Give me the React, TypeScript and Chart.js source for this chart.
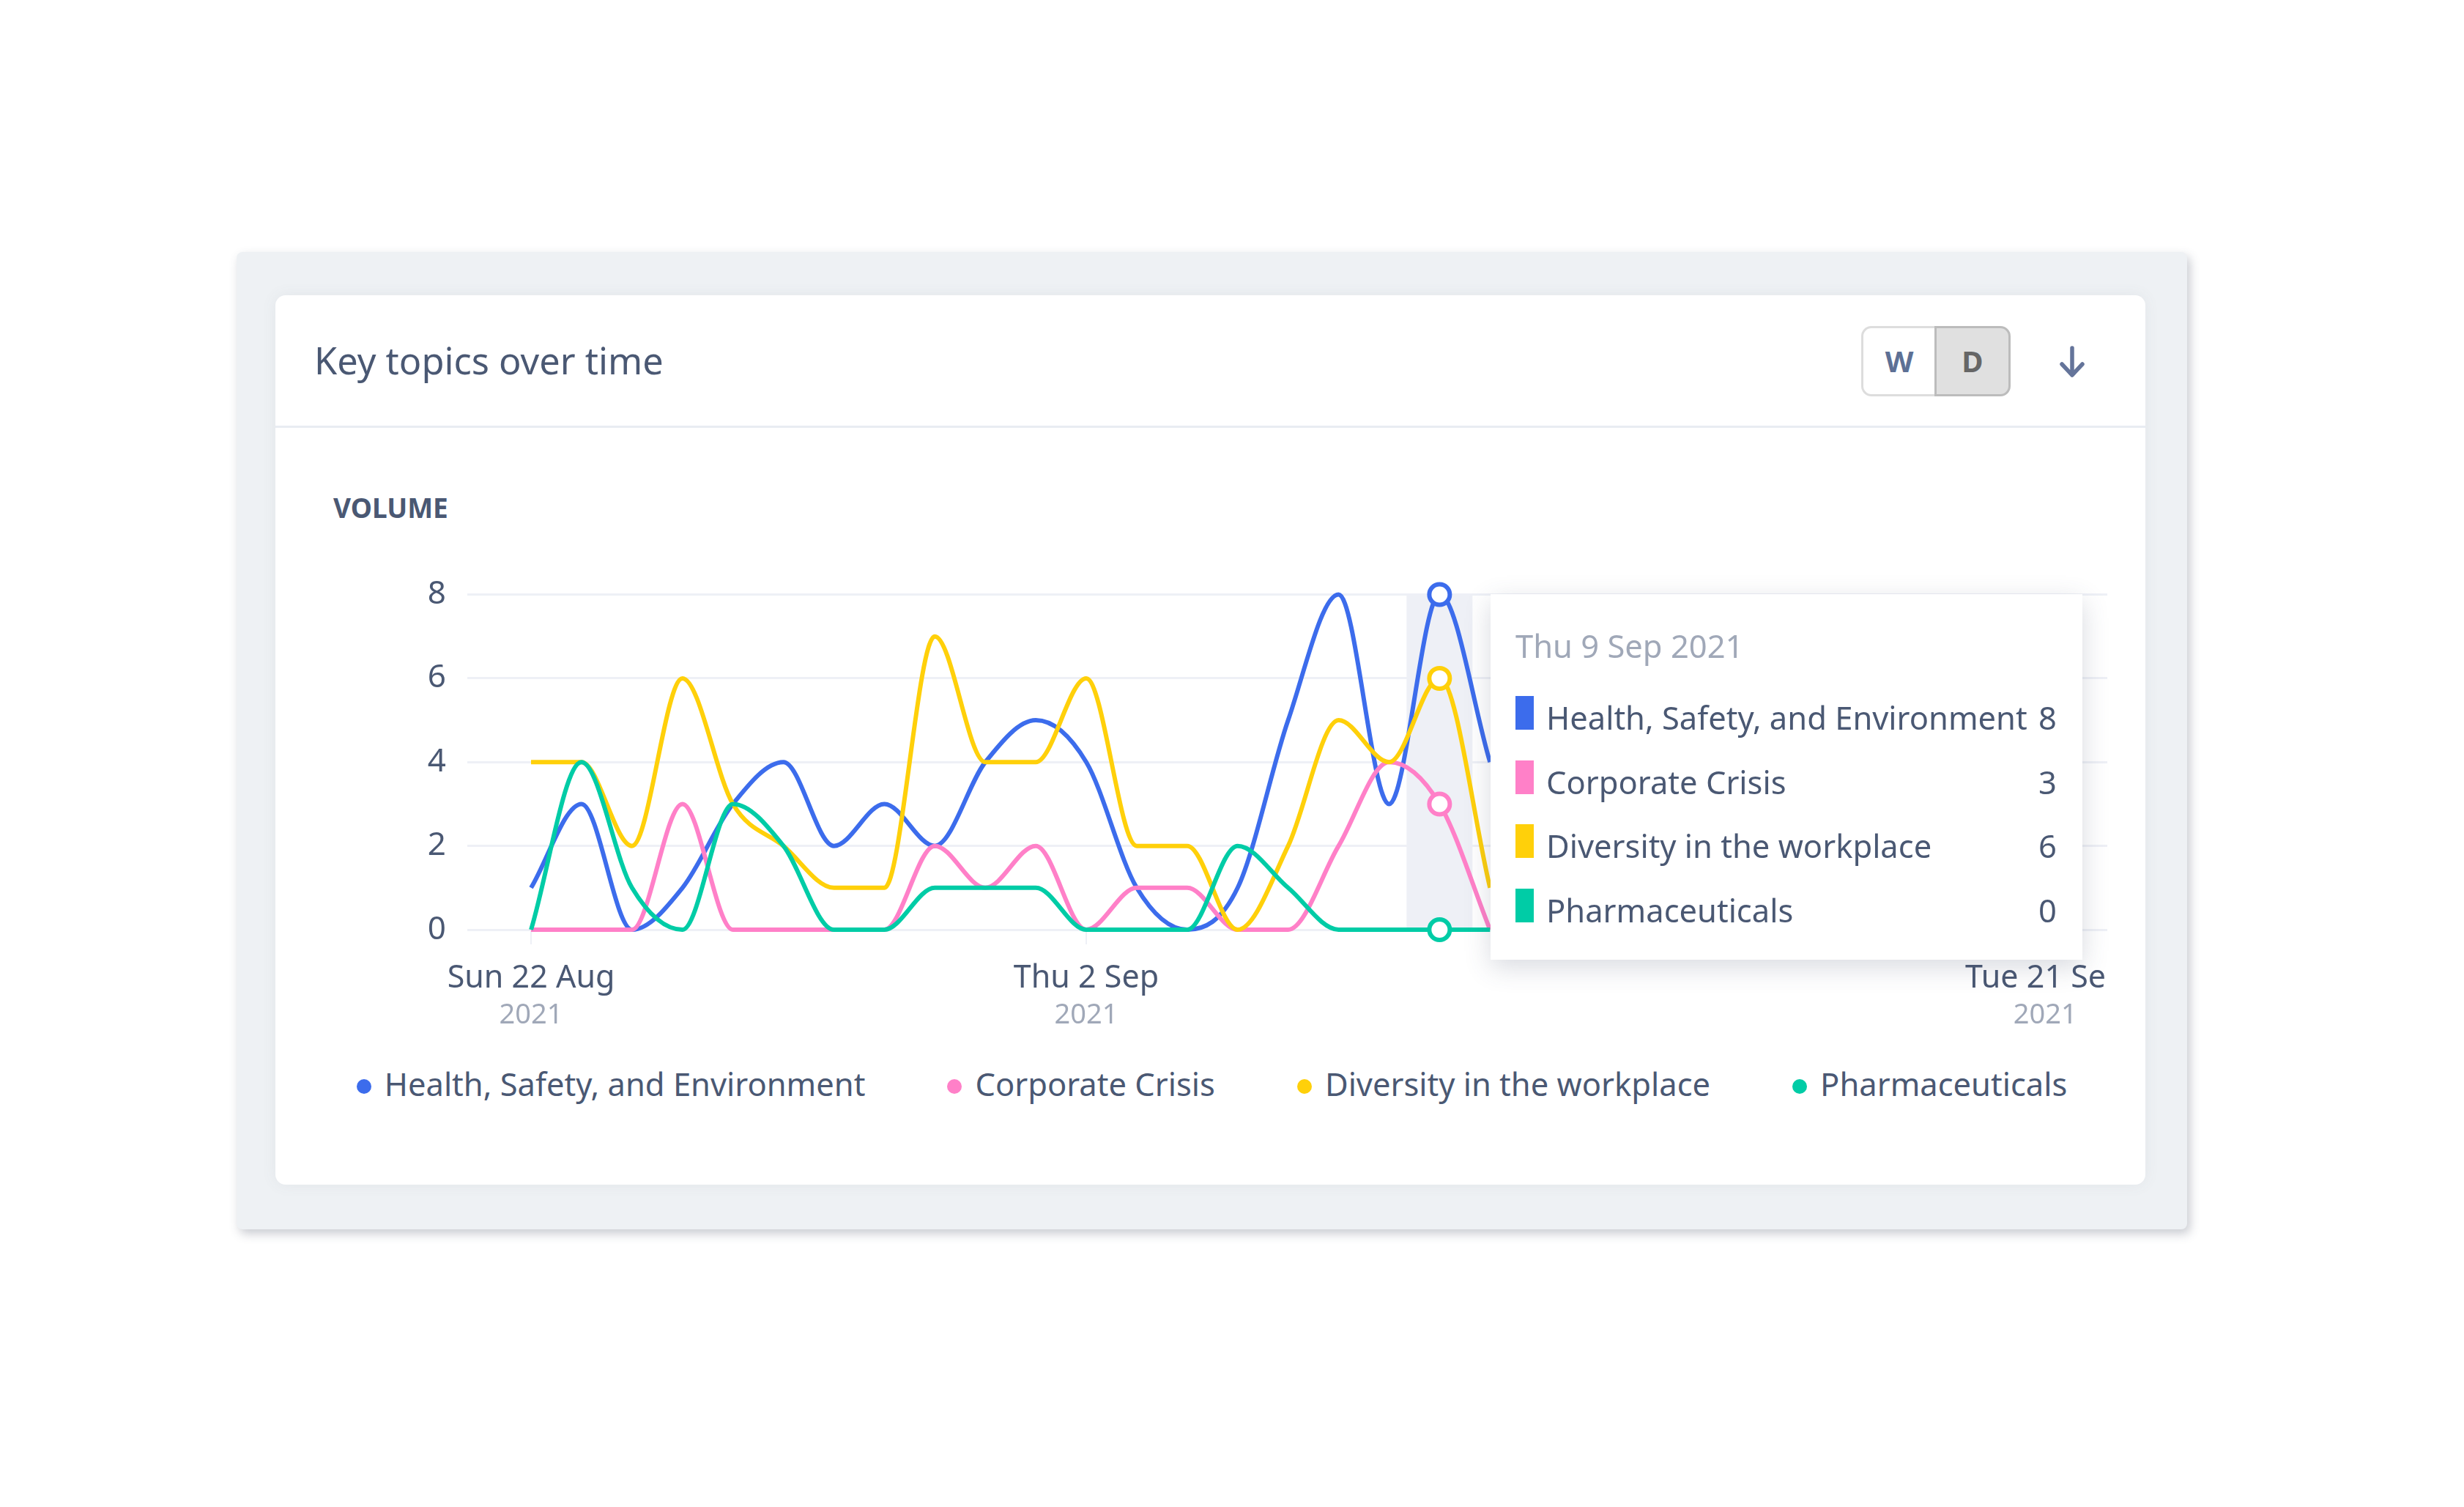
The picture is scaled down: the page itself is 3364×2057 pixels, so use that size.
import { useEffect, useRef } from "react";
import { Chart, registerables, type Plugin } from "chart.js";

Chart.register(...registerables);

const FONT = '"Noto Sans", "Open Sans", sans-serif';
const INK = "#4a5873";
const MUTED = "#a0a8b8";

// one entry per day, Sun 22 Aug to Tue 21 Sep 2021
const tickDays = [0, 11, 30];
const tickDates = ["Sun 22 Aug", "Thu 2 Sep", "Tue 21 Sep"];
const tickYears = ["2021", "2021", "2021"];
const yTicks = [0, 2, 4, 6, 8];

// the lines run behind the tooltip after day 19, so they stop there
const health = [1, 3, 0, 1, 3, 4, 2, 3, 2, 4, 5, 4, 1, 0, 1, 5, 8, 3, 8, 4];
const crisis = [0, 0, 0, 3, 0, 0, 0, 0, 2, 1, 2, 0, 1, 1, 0, 0, 2, 4, 3, 0];
const diversity = [4, 4, 2, 6, 3, 2, 1, 1, 7, 4, 4, 6, 2, 2, 0, 2, 5, 4, 6, 1];
const pharma = [0, 4, 1, 0, 3, 2, 0, 0, 1, 1, 1, 0, 0, 0, 2, 1, 0, 0, 0, 0];

const seriesNames = [
  "Health, Safety, and Environment",
  "Corporate Crisis",
  "Diversity in the workplace",
  "Pharmaceuticals",
];
const seriesColors = ["#3c6cec", "#ff80c8", "#ffd00a", "#00cca6"];
const seriesValues = [health, crisis, diversity, pharma];

const hoverDay = 18;
const hoverLabel = "Thu 9 Sep 2021";

const xMin = -1.263;
const xMax = 31.23;

const hoverBand: Plugin<"line"> = {
  id: "hoverBand",
  beforeDatasetsDraw(chart) {
    const { ctx, scales } = chart;
    const x = scales.x.getPixelForValue(hoverDay);
    const top = scales.y.getPixelForValue(8);
    const bottom = scales.y.getPixelForValue(0);
    ctx.save();
    ctx.fillStyle = "#eef0f6";
    ctx.fillRect(x - 45, top, 90, bottom - top);
    ctx.restore();
  },
};

function LineChart() {
  const canvasRef = useRef<HTMLCanvasElement>(null);

  useEffect(() => {
    if (!canvasRef.current) return;

    const chart = new Chart(canvasRef.current, {
      type: "line",
      data: {
        datasets: seriesNames.map((name, s) => ({
          label: name,
          data: seriesValues[s].map((y, x) => ({ x, y })),
          borderColor: seriesColors[s],
          backgroundColor: seriesColors[s],
          borderWidth: 6,
          cubicInterpolationMode: "monotone" as const,
          order: seriesNames.length - s,
          pointRadius: (c: any) => (c.dataIndex === hoverDay ? 14 : 0),
          pointBackgroundColor: "#fff",
          pointBorderColor: seriesColors[s],
          pointBorderWidth: 6,
        })),
      },
      options: {
        animation: false,
        responsive: false,
        devicePixelRatio: 1,
        layout: { padding: { top: 31.5 }, autoPadding: false },
        events: [],
        clip: false,
        scales: {
          x: {
            type: "linear",
            min: xMin,
            max: xMax,
            afterBuildTicks: (axis) => {
              axis.ticks = tickDays.map((value) => ({ value }));
            },
            afterFit: (axis: any) => {
              axis.height = 94;
              axis.paddingLeft = 0;
              axis.paddingRight = 0;
            },
            border: { display: false },
            grid: { drawOnChartArea: false, color: "#eef0f6", lineWidth: 2, tickLength: 20 },
            ticks: {
              autoSkip: false,
              maxRotation: 0,
              padding: 21,
              color: INK,
              font: { family: FONT, size: 43 },
              callback: (v) => tickDates[tickDays.indexOf(Number(v))],
            },
          },
          years: {
            type: "linear",
            axis: "x",
            position: "bottom",
            min: xMin,
            max: xMax,
            afterBuildTicks: (axis) => {
              axis.ticks = tickDays.map((value) => ({ value }));
            },
            afterFit: (axis: any) => {
              axis.height = 46;
              axis.paddingLeft = 0;
              axis.paddingRight = 0;
            },
            border: { display: false },
            grid: { display: false, drawTicks: false },
            ticks: {
              autoSkip: false,
              maxRotation: 0,
              padding: 0,
              color: MUTED,
              font: { family: FONT, size: 38 },
              callback: (v) => tickYears[tickDays.indexOf(Number(v))],
            },
          },
          y: {
            min: 0,
            max: 8,
            afterBuildTicks: (axis) => {
              axis.ticks = yTicks.map((value) => ({ value }));
            },
            afterFit: (axis: any) => {
              axis.width = 208;
              axis.paddingTop = 0;
              axis.paddingBottom = 0;
            },
            border: { display: false },
            grid: { color: "#eef0f6", lineWidth: 3, drawTicks: false },
            ticks: { autoSkip: false, padding: 29, color: INK, font: { family: FONT, size: 44 } },
          },
        },
        plugins: {
          tooltip: { enabled: false },
          legend: { display: false },
        },
      },
      plugins: [hoverBand],
    });

    return () => {
      chart.destroy();
    };
  }, []);

  return <canvas ref={canvasRef} width={2447} height={629} style={{ position: "absolute", left: 430, top: 780 }} />;
}

function HoverTooltip() {
  return (
    <div
      style={{
        position: "absolute",
        left: 2035,
        top: 811,
        width: 808,
        height: 499,
        background: "#fff",
        boxShadow: "0 10px 34px rgba(60,70,100,0.2)",
        color: INK,
        fontSize: 43.5,
      }}
    >
      <div style={{ position: "absolute", left: 34, top: 40, color: MUTED, lineHeight: "60px" }}>{hoverLabel}</div>
      {seriesNames.map((name, s) => (
        <div key={name} style={{ position: "absolute", left: 34, right: 35, top: 138 + s * 87.5, height: 66 }}>
          <span style={{ position: "absolute", left: 0, top: 1, width: 25, height: 46, background: seriesColors[s] }} />
          <span style={{ position: "absolute", left: 42, top: 0, lineHeight: "60px", whiteSpace: "nowrap" }}>{name}</span>
          <span style={{ position: "absolute", right: 0, top: 0, lineHeight: "60px" }}>{seriesValues[s][hoverDay]}</span>
        </div>
      ))}
    </div>
  );
}

function Legend() {
  return (
    <div style={{ position: "absolute", left: 378, top: 1449, width: 2553, display: "flex", justifyContent: "center", gap: 112, fontSize: 43.5, lineHeight: "60px", color: INK }}>
      {seriesNames.map((name, s) => (
        <span key={name} style={{ display: "flex", alignItems: "center", gap: 18, whiteSpace: "nowrap" }}>
          <span style={{ width: 20, height: 20, marginTop: 8, borderRadius: "50%", background: seriesColors[s] }} />
          {name}
        </span>
      ))}
    </div>
  );
}

export default function App() {
  return (
    <div style={{ position: "absolute", left: 0, top: 0, width: 3364, height: 2057, background: "#fff", overflow: "hidden", fontFamily: FONT }}>
      <div style={{ position: "absolute", left: 323, top: 344, width: 2663, height: 1334, background: "#eef1f4", borderRadius: 8, boxShadow: "4px 6px 14px rgba(60,70,90,0.28)" }} />
      <div style={{ position: "absolute", left: 376, top: 403, width: 2553, height: 1214, background: "#fff", borderRadius: 14, boxShadow: "0 0 20px rgba(90,100,120,0.08)" }} />
      <div style={{ position: "absolute", left: 376, top: 581, width: 2553, height: 3, background: "#e9ecf2" }} />
      <div style={{ position: "absolute", left: 429, top: 455, fontSize: 50.5, lineHeight: "74px", color: INK }}>Key topics over time</div>
      <div style={{ position: "absolute", left: 2541, top: 445, width: 101, height: 96, boxSizing: "border-box", border: "3px solid #dddddd", borderRight: "none", borderRadius: "14px 0 0 14px", fontSize: 40, fontWeight: 700, lineHeight: "90px", textAlign: "center", color: "#5d7095" }}>W</div>
      <div style={{ position: "absolute", left: 2641, top: 445, width: 104, height: 96, boxSizing: "border-box", border: "3px solid #bcbcbc", borderRadius: "0 14px 14px 0", background: "#e0e0e0", fontSize: 40, fontWeight: 700, lineHeight: "90px", textAlign: "center", color: "#666" }}>D</div>
      <svg style={{ position: "absolute", left: 2808, top: 470 }} width="42" height="48" viewBox="0 0 42 48" fill="none" stroke="#64749a" strokeWidth="5.5" strokeLinecap="round" strokeLinejoin="round">
        <path d="M21 5V42M7 27L21 42L35 27" />
      </svg>
      <div style={{ position: "absolute", left: 455, top: 668, fontSize: 37, fontWeight: 700, lineHeight: "50px", color: INK }}>VOLUME</div>
      <LineChart />
      <HoverTooltip />
      <Legend />
    </div>
  );
}
